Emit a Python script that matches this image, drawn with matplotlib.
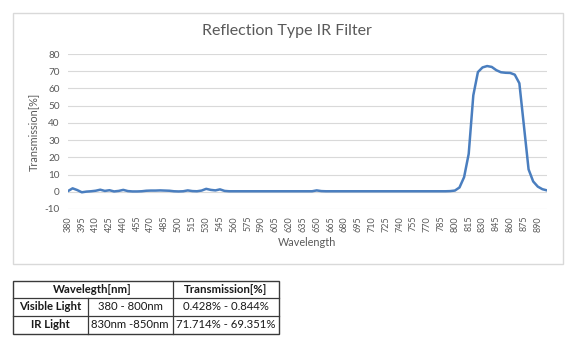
import matplotlib.pyplot as plt
import numpy as np
from matplotlib.patches import Rectangle

plt.rcParams["font.family"] = ["Lato", "DejaVu Sans"]
plt.rcParams["axes.unicode_minus"] = False

# spectrum, 5 nm steps
wavelength = np.arange(380, 905, 5)
transmission = [
    0.4, 2.0, 1.0, -0.3, 0.1, 0.3, 0.6, 1.2, 0.5, 0.9,      # 380-425
    0.2, 0.5, 1.1, 0.4, 0.2, 0.2, 0.3, 0.6, 0.7, 0.7,       # 430-475
    0.8, 0.7, 0.6, 0.3, 0.2, 0.3, 0.8, 0.4, 0.3, 0.7,       # 480-525
    1.7, 1.1, 0.8, 1.4, 0.5, 0.3, 0.3, 0.3, 0.3, 0.3,       # 530-575
    0.3, 0.3, 0.3, 0.3, 0.3, 0.3, 0.3, 0.3, 0.3, 0.3,       # 580-625
    0.3, 0.3, 0.3, 0.3, 0.8, 0.4, 0.3, 0.3, 0.3, 0.3,       # 630-675
    0.3, 0.3, 0.3, 0.3, 0.3, 0.3, 0.3, 0.3, 0.3, 0.3,       # 680-725
    0.3, 0.3, 0.3, 0.3, 0.3, 0.3, 0.3, 0.3, 0.3, 0.3,       # 730-775
    0.3, 0.3, 0.3, 0.4, 0.7, 2.5, 8.5, 22.0, 56.0, 69.5,    # 780-825
    72.2, 73.0, 72.5, 70.6, 69.4, 69.1, 69.0, 68.0, 63.0, 38.0,  # 830-875
    13.0, 6.0, 3.0, 1.5, 0.8,                               # 880-900
]
xtick_values = np.arange(380, 891, 15)

table_header = ["Wavelegth[nm]", "Transmission[%]"]
table_rows = [
    ["Visible Light", "380 - 800nm", "0.428% - 0.844%"],
    ["IR Light", "830nm -850nm", "71.714% - 69.351%"],
]

W, H = 585, 345
fig = plt.figure(figsize=(W / 100, H / 100), dpi=100)

# background overlay in pixel coords
bg = fig.add_axes([0, 0, 1, 1], zorder=0)
bg.set_xlim(0, W)
bg.set_ylim(H, 0)
bg.axis("off")
bg.add_patch(Rectangle((12.5, 13), 550, 251, fill=False, ec="#d9d9d9", lw=1))

grey = "#595959"
ax = fig.add_axes([68 / W, 1 - 209 / H, 479 / W, 155 / H], zorder=1)
ax.patch.set_alpha(0)
ax.plot(wavelength, transmission, color="#4a7ebf", lw=1.8, solid_capstyle="round")
ax.set_xlim(380, 900)
ax.set_ylim(-10, 80)
ax.set_yticks(np.arange(-10, 81, 10))
ax.set_xticks(xtick_values)
ax.set_xticklabels([str(v) for v in xtick_values], rotation=90, fontsize=6.5, color=grey)
ax.tick_params(axis="y", labelsize=7.2, colors=grey, length=0, pad=6)
ax.tick_params(axis="x", length=0, pad=5)
ax.grid(axis="y", color="#d9d9d9", lw=0.8)
ax.set_axisbelow(True)
for s in ax.spines.values():
    s.set_visible(False)
bg.text(287, 31, "Reflection Type IR Filter", fontsize=11.5, color=grey,
        ha="center", va="center")
ax.set_xlabel("Wavelength", fontsize=7.8, color=grey, labelpad=4)
ax.set_ylabel("Transmission[%]", fontsize=7.8, color=grey, labelpad=4)

# table below the chart
cols = [12.5, 87.5, 172.5, 278.5]
rows = [281, 298, 316, 334]
lc = "#3a3a3a"
bg.add_patch(Rectangle((cols[0], rows[0]), cols[-1] - cols[0], rows[-1] - rows[0],
                       fill=False, ec=lc, lw=1.0))
for y in rows[1:-1]:
    bg.plot([cols[0], cols[-1]], [y, y], color=lc, lw=0.9)
bg.plot([cols[2], cols[2]], [rows[0], rows[-1]], color=lc, lw=0.9)
bg.plot([cols[1], cols[1]], [rows[1], rows[-1]], color=lc, lw=0.9)

txt = dict(ha="center", va="center", fontsize=8.2, color="#1a1a1a")
bg.text((cols[0] + cols[2]) / 2, (rows[0] + rows[1]) / 2, table_header[0], weight="bold", **txt)
bg.text((cols[2] + cols[3]) / 2, (rows[0] + rows[1]) / 2, table_header[1], weight="bold", **txt)
for i, row in enumerate(table_rows):
    yc = (rows[i + 1] + rows[i + 2]) / 2
    for j, cell in enumerate(row):
        bg.text((cols[j] + cols[j + 1]) / 2, yc, cell,
                weight="bold" if j == 0 else "normal", **txt)

fig.savefig("out.png", dpi=100)
